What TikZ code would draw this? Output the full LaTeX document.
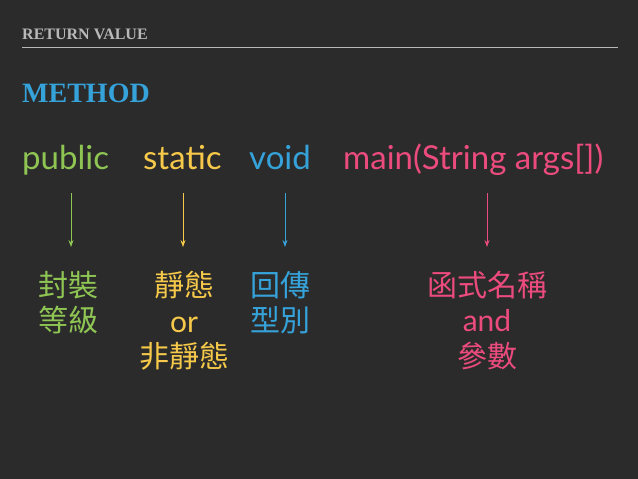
\documentclass[tikz,border=0pt]{standalone}
\usetikzlibrary{arrows.meta}
\usepackage{fontspec}
\setmainfont{Lato}
\newfontfamily\cjk{Noto Sans CJK TC}
\newfontfamily\serifb{Liberation Serif}
\definecolor{bg}{HTML}{2B2B2B}
\definecolor{cgreen}{HTML}{8FC553}
\definecolor{cyellow}{HTML}{F6C94A}
\definecolor{cblue}{HTML}{36A2DA}
\definecolor{cpink}{HTML}{EC4B7E}
\definecolor{cgray}{HTML}{B8B8B8}
\begin{document}
\begin{tikzpicture}[x=1pt,y=-1pt,
  code/.style={font=\fontsize{33}{36}\selectfont,anchor=base west,inner sep=0},
  lab/.style={font=\cjk\fontsize{30}{35.5}\selectfont,align=center,anchor=north,inner sep=0},
  arr/.style={-{Stealth[length=7pt,width=5pt]},line width=0.8pt}]
\fill[bg] (0,0) rectangle (638,479);
\node[anchor=base west,inner sep=0,text=cgray,font=\serifb\bfseries\fontsize{16}{18}\selectfont] (hd) at (22,39) {RETURN VALUE};
\coordinate (l1) at (22,47); \coordinate (l2) at (618,47);
\draw[cgray,line width=0.6pt] (l1) -- (l2);
\node[anchor=base west,inner sep=0,text=cblue,font=\serifb\bfseries\fontsize{28}{30}\selectfont] (meth) at (22,102) {METHOD};
\node[code,text=cgreen] (pub) at (22,169) {public};
\node[code,text=cyellow] (sta) at (143,169) {static};
\node[code,text=cblue] (voi) at (249,169) {void};
\node[code,text=cpink] (mai) at (343,169) {main(String args[])};
\coordinate (a1) at (71,193); \coordinate (b1) at (71,247);
\coordinate (a2) at (183,193); \coordinate (b2) at (183,247);
\coordinate (a3) at (285,193); \coordinate (b3) at (285,247);
\coordinate (a4) at (487,193); \coordinate (b4) at (487,247);
\draw[arr,cgreen] (a1) -- (b1);
\draw[arr,cyellow] (a2) -- (b2);
\draw[arr,cblue] (a3) -- (b3);
\draw[arr,cpink] (a4) -- (b4);
\node[lab,text=cgreen] (t1) at (68,271) {封裝\\等級};
\node[lab,text=cyellow] (t2) at (184,271) {靜態\\{\fontspec{Lato}or}\\非靜態};
\node[lab,text=cblue] (t3) at (280,271) {回傳\\型別};
\node[lab,text=cpink] (t4) at (487,271) {函式名稱\\{\fontspec{Lato}and}\\參數};
\end{tikzpicture}
\end{document}
